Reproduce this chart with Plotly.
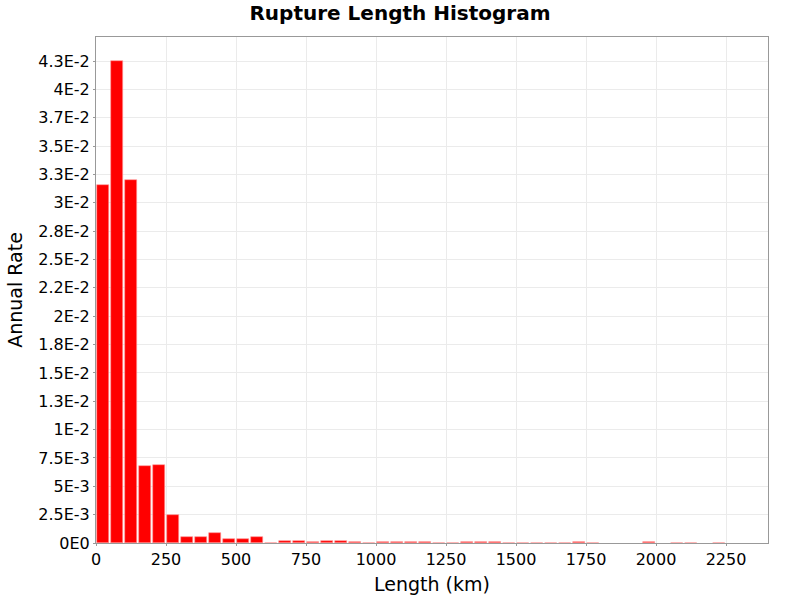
import plotly.graph_objects as go

bin_width = 50
bin_centers = [25 + 50 * i for i in range(48)]
annual_rate = [
    0.0316, 0.0425, 0.0320, 0.0068, 0.0069, 0.0025, 0.00052, 0.00057,
    0.00087, 0.00037, 0.00033, 0.00052, 0.00004, 0.00017, 0.00017, 0.00010,
    0.00016, 0.00016, 0.00007, 0.00004, 0.00006, 0.00010, 0.00007, 0.00008,
    0.00003, 0.00004, 0.00006, 0.00006, 0.00010, 0.00003, 0.00003, 0.00003,
    0.00004, 0.00004, 0.00013, 0.00002, 0.0, 0.0, 0.0, 0.00010,
    0.0, 0.00002, 0.00004, 0.0, 0.00002, 0.0, 0.0, 0.0,
]

y_tickvals = [0.0025 * i for i in range(18)]
y_ticktext = ["0E0", "2.5E-3", "5E-3", "7.5E-3", "1E-2", "1.3E-2", "1.5E-2",
              "1.8E-2", "2E-2", "2.2E-2", "2.5E-2", "2.8E-2", "3E-2", "3.3E-2",
              "3.5E-2", "3.7E-2", "4E-2", "4.3E-2"]
x_tickvals = [0, 250, 500, 750, 1000, 1250, 1500, 1750, 2000, 2250]

outline_widths = [0.6 if v > 0 else 0 for v in annual_rate]

fig = go.Figure()
fig.add_trace(go.Bar(
    x=bin_centers,
    y=annual_rate,
    width=[bin_width * 0.9] * len(bin_centers),
    marker=dict(color="#ff0000", line=dict(color="#ff9a9a", width=outline_widths)),
    hoverinfo="x+y",
))

fig.update_layout(
    width=800, height=600,
    paper_bgcolor="white", plot_bgcolor="white",
    font=dict(family="DejaVu Sans", color="black"),
    title=dict(text="<b>Rupture Length Histogram</b>", x=0.5, xanchor="center",
               y=1 - 13 / 600, yanchor="middle", font=dict(size=20, family="DejaVu Sans")),
    margin=dict(l=96, r=32, t=37, b=57),
    showlegend=False,
    bargap=0,
)
fig.update_xaxes(
    range=[0, 2400], tickvals=x_tickvals, ticktext=[str(v) for v in x_tickvals],
    tickfont=dict(size=16), showgrid=True, gridcolor="#ebebeb", gridwidth=1,
    showline=True, linecolor="#999999", linewidth=1, mirror=True,
    ticks="outside", ticklen=2, tickcolor="#999999", zeroline=False,
    automargin=False,
    title=dict(text="Length (km)", font=dict(size=19), standoff=9),
)
fig.update_yaxes(
    range=[0, 0.0425 * 1.05], tickvals=y_tickvals, ticktext=y_ticktext,
    tickfont=dict(size=16), showgrid=True, gridcolor="#ebebeb", gridwidth=1,
    showline=True, linecolor="#999999", linewidth=1, mirror=True,
    ticks="outside", ticklen=2, tickcolor="#999999", zeroline=False,
    automargin=False,
    title=dict(text="Annual Rate", font=dict(size=19), standoff=10),
)

fig.write_html("out.html", config={"displayModeBar": False},
               post_script="document.body.style.margin='0';")
